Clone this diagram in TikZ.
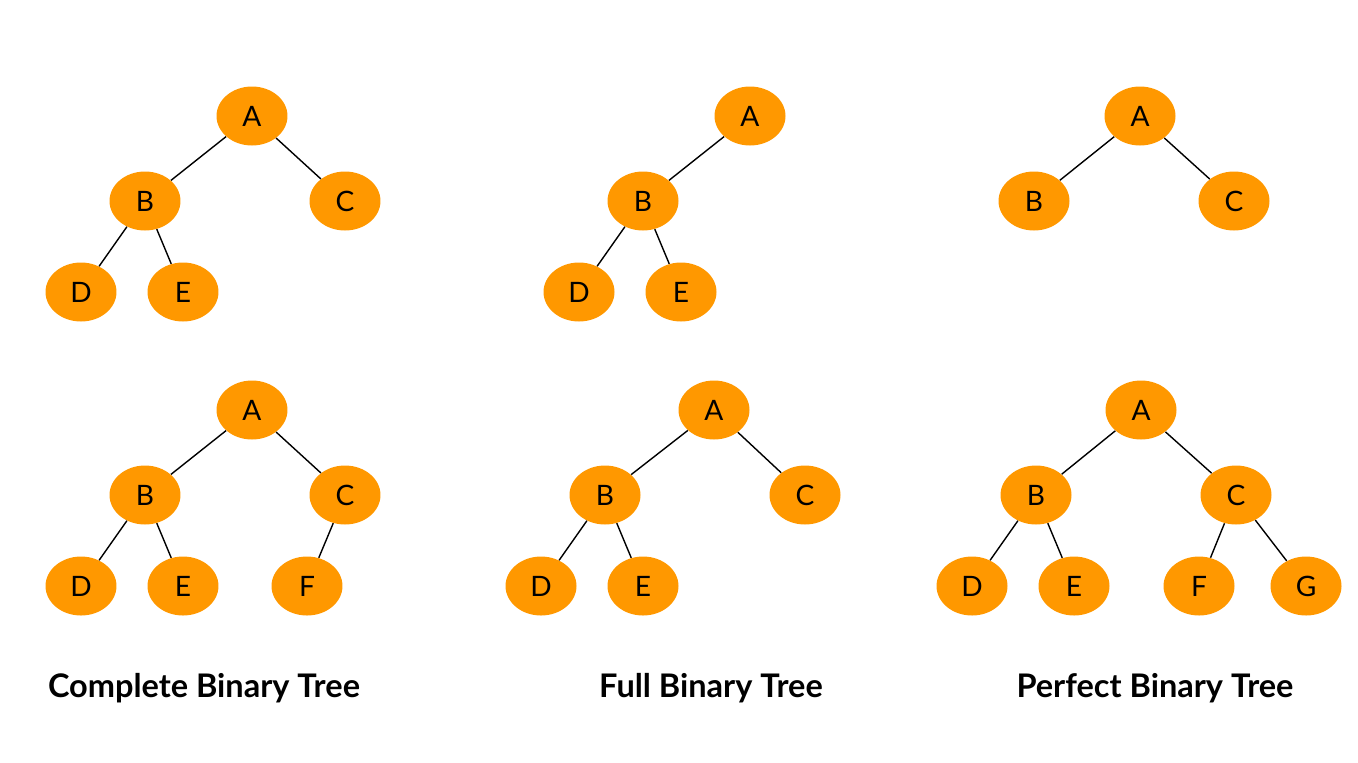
\documentclass[tikz,border=0pt]{standalone}
\usepackage{fontspec}
\setmainfont{Lato}
\usetikzlibrary{shapes.geometric}
\definecolor{treeorange}{HTML}{FF9800}
\tikzset{
	leaf/.style={ellipse, fill=treeorange, minimum width=1.42cm, minimum height=1.18cm, inner sep=0pt, font=\fontsize{16}{18}\selectfont},
	edge/.style={line width=0.8pt},
	caption/.style={font=\fontsize{18.5}{22}\selectfont\bfseries}
}
\begin{document}
\begin{tikzpicture}[x=0.02cm, y=-0.02cm]
	\useasboundingbox (0,0) rectangle (1358,762);
	% complete, top
	\node [leaf] (a1) at (252,116) {A};
	\node [leaf] (b1) at (145,201) {B};
	\node [leaf] (c1) at (345,201) {C};
	\node [leaf] (d1) at (81,292) {D};
	\node [leaf] (e1) at (183,292) {E};
	\draw [edge] (a1) -- (b1) (a1) -- (c1) (b1) -- (d1) (b1) -- (e1);
	% full, top
	\node [leaf] (a2) at (750,116) {A};
	\node [leaf] (b2) at (643,201) {B};
	\node [leaf] (d2) at (579,292) {D};
	\node [leaf] (e2) at (681,292) {E};
	\draw [edge] (a2) -- (b2) (b2) -- (d2) (b2) -- (e2);
	% perfect, top
	\node [leaf] (a3) at (1140,116) {A};
	\node [leaf] (b3) at (1034,201) {B};
	\node [leaf] (c3) at (1234,201) {C};
	\draw [edge] (a3) -- (b3) (a3) -- (c3);
	% complete, bottom
	\node [leaf] (a4) at (252,410) {A};
	\node [leaf] (b4) at (145,495) {B};
	\node [leaf] (c4) at (345,495) {C};
	\node [leaf] (d4) at (81,586) {D};
	\node [leaf] (e4) at (183,586) {E};
	\node [leaf] (f4) at (307,586) {F};
	\draw [edge] (a4) -- (b4) (a4) -- (c4) (b4) -- (d4) (b4) -- (e4) (c4) -- (f4);
	% full, bottom
	\node [leaf] (a5) at (714,410) {A};
	\node [leaf] (b5) at (605,495) {B};
	\node [leaf] (c5) at (805,495) {C};
	\node [leaf] (d5) at (541,586) {D};
	\node [leaf] (e5) at (643,586) {E};
	\draw [edge] (a5) -- (b5) (a5) -- (c5) (b5) -- (d5) (b5) -- (e5);
	% perfect, bottom
	\node [leaf] (a6) at (1141,410) {A};
	\node [leaf] (b6) at (1036,495) {B};
	\node [leaf] (c6) at (1236,495) {C};
	\node [leaf] (d6) at (972,586) {D};
	\node [leaf] (e6) at (1074,586) {E};
	\node [leaf] (f6) at (1199,586) {F};
	\node [leaf] (g6) at (1306,586) {G};
	\draw [edge] (a6) -- (b6) (a6) -- (c6) (b6) -- (d6) (b6) -- (e6) (c6) -- (f6) (c6) -- (g6);
	% captions
	\node [caption] (t1) at (204,688) {Complete Binary Tree};
	\node [caption] (t2) at (711,688) {Full Binary Tree};
	\node [caption] (t3) at (1155,688) {Perfect Binary Tree};
\end{tikzpicture}
\end{document}
